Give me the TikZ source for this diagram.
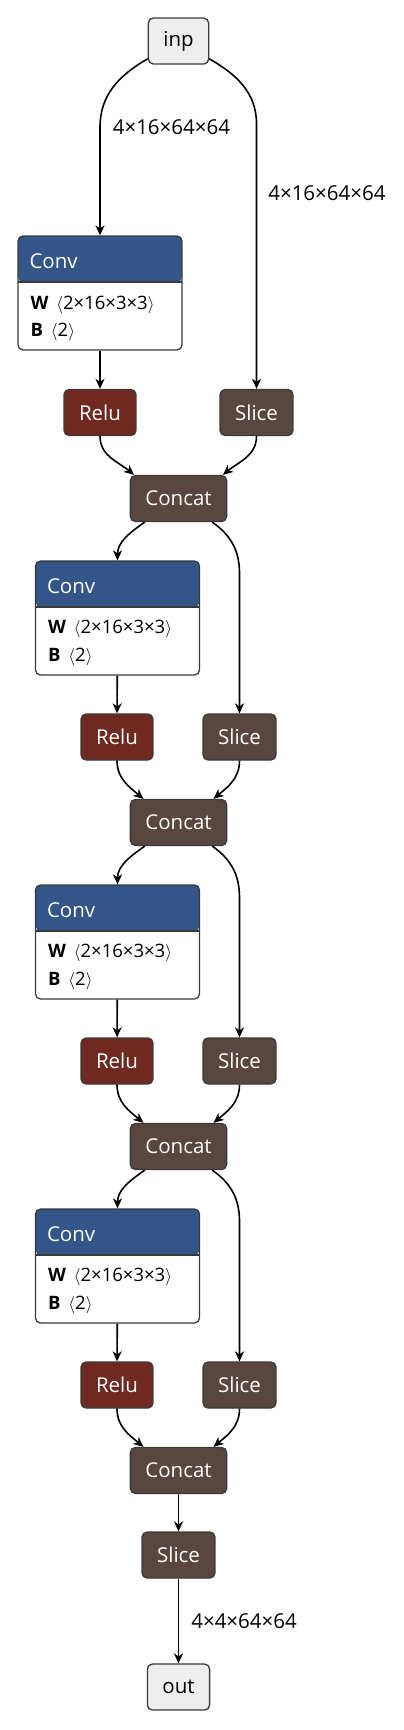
\documentclass[tikz,border=0pt]{standalone}
\usepackage{fontspec}
\setmainfont{Open Sans}
\usepackage{tikz}
\usetikzlibrary{arrows.meta, positioning, calc}
\definecolor{convblue}{RGB}{51,85,136}
\definecolor{relured}{RGB}{112,41,33}
\definecolor{tensorbrown}{RGB}{89,71,63}
\definecolor{iogray}{RGB}{238,238,238}
\definecolor{boxline}{RGB}{58,58,58}
\tikzstyle{opbox} = [rectangle, rounded corners=5pt, minimum height=46pt, inner xsep=15pt, inner ysep=0pt, text centered, draw=boxline, line width=1.3pt, font=\fontsize{20.5pt}{24pt}\selectfont]
\tikzstyle{iobox} = [opbox, fill=iogray, text=black]
\tikzstyle{relubox} = [opbox, fill=relured, text=white]
\tikzstyle{slicebox} = [opbox, fill=tensorbrown, text=white]
\tikzstyle{convbox} = [rectangle, rounded corners=5pt, minimum width=164pt, minimum height=114pt, draw=boxline, line width=1.3pt, fill=white,
  path picture={\fill[convblue] (path picture bounding box.north west) rectangle ([yshift=-46pt]path picture bounding box.north east);
                \draw[boxline, line width=1.3pt] ([yshift=-46pt]path picture bounding box.north west) -- ([yshift=-46pt]path picture bounding box.north east);}]
\tikzstyle{convname} = [anchor=base west, inner sep=0pt, text=white, font=\fontsize{20.5pt}{24pt}\selectfont]
\tikzstyle{convattr} = [anchor=base west, inner sep=0pt, font=\fontsize{18.5pt}{22pt}\selectfont]
\tikzstyle{lbl} = [inner sep=0pt, font=\fontsize{20.5pt}{24pt}\selectfont]
\tikzstyle{arrow} = [line width=1.6pt, -{Stealth[length=10pt, width=9pt, inset=3pt]}]

\begin{document}
\begin{tikzpicture}[x=1pt, y=1pt]
    \useasboundingbox (0,0) rectangle (404,-1730);

    \node (inp) [iobox] at (178.5,-41) {inp};

    % first block
    \node (conv1) [convbox] at (100,-293) {};
    \node (conv1name) [convname] at ([xshift=12pt,yshift=-33pt]conv1.north west) {Conv};
    \node (conv1w) [convattr] at ([xshift=13pt,yshift=-74pt]conv1.north west) {\textbf{W}\hspace{8pt}$\langle$2×16×3×3$\rangle$};
    \node (conv1b) [convattr] at ([xshift=13pt,yshift=-101pt]conv1.north west) {\textbf{B}\hspace{8pt}$\langle$2$\rangle$};
    \node (relu1) [relubox] at (100,-412.5) {Relu};
    \node (slice1) [slicebox] at (256.5,-412.5) {Slice};
    \node (concat1) [slicebox] at (178.5,-498.5) {Concat};

    % second block
    \node (conv2) [convbox] at (117.5,-618) {};
    \node (conv2name) [convname] at ([xshift=12pt,yshift=-33pt]conv2.north west) {Conv};
    \node (conv2w) [convattr] at ([xshift=13pt,yshift=-73pt]conv2.north west) {\textbf{W}\hspace{8pt}$\langle$2×16×3×3$\rangle$};
    \node (conv2b) [convattr] at ([xshift=13pt,yshift=-101pt]conv2.north west) {\textbf{B}\hspace{8pt}$\langle$2$\rangle$};
    \node (relu2) [relubox] at (117,-737) {Relu};
    \node (slice2) [slicebox] at (239.5,-737) {Slice};
    \node (concat2) [slicebox] at (178.5,-822.5) {Concat};

    % third block
    \node (conv3) [convbox] at (117.5,-942) {};
    \node (conv3name) [convname] at ([xshift=12pt,yshift=-33pt]conv3.north west) {Conv};
    \node (conv3w) [convattr] at ([xshift=13pt,yshift=-73pt]conv3.north west) {\textbf{W}\hspace{8pt}$\langle$2×16×3×3$\rangle$};
    \node (conv3b) [convattr] at ([xshift=13pt,yshift=-101pt]conv3.north west) {\textbf{B}\hspace{8pt}$\langle$2$\rangle$};
    \node (relu3) [relubox] at (117,-1061) {Relu};
    \node (slice3) [slicebox] at (239.5,-1061) {Slice};
    \node (concat3) [slicebox] at (178.5,-1146.5) {Concat};

    % fourth block
    \node (conv4) [convbox] at (117.5,-1266) {};
    \node (conv4name) [convname] at ([xshift=12pt,yshift=-33pt]conv4.north west) {Conv};
    \node (conv4w) [convattr] at ([xshift=13pt,yshift=-73pt]conv4.north west) {\textbf{W}\hspace{8pt}$\langle$2×16×3×3$\rangle$};
    \node (conv4b) [convattr] at ([xshift=13pt,yshift=-101pt]conv4.north west) {\textbf{B}\hspace{8pt}$\langle$2$\rangle$};
    \node (relu4) [relubox] at (117,-1385) {Relu};
    \node (slice4) [slicebox] at (239.5,-1385) {Slice};
    \node (concat4) [slicebox] at (178.5,-1470.5) {Concat};

    \node (slice5) [slicebox] at (178.5,-1555) {Slice};
    \node (out) [iobox] at (178.5,-1687) {out};

    \draw [arrow] (inp.210) to[out=210,in=90] ($(conv1.north)+(0,108)$) -- node[lbl, right=12pt, pos=0] {4×16×64×64} (conv1.north);
    \draw [arrow] (inp.330) to[out=-30,in=90] ($(slice1.north)+(0,265)$) -- node[lbl, right=11pt, pos=0.26] {4×16×64×64} (slice1.north);
    \draw [arrow] (conv1) -- (relu1);
    \draw [arrow] (relu1.south) to[out=-90,in=140] (concat1.152);
    \draw [arrow] (slice1.south) to[out=-90,in=40] (concat1.28);

    \draw [arrow] (concat1.215) to[out=215,in=90] (conv2.north);
    \draw [arrow] (concat1.325) to[out=-35,in=90] ($(slice2.north)+(0,140)$) -- (slice2.north);
    \draw [arrow] (conv2) -- (relu2);
    \draw [arrow] (relu2.south) to[out=-90,in=140] (concat2.146);
    \draw [arrow] (slice2.south) to[out=-90,in=40] (concat2.34);

    \draw [arrow] (concat2.215) to[out=215,in=90] (conv3.north);
    \draw [arrow] (concat2.325) to[out=-35,in=90] ($(slice3.north)+(0,140)$) -- (slice3.north);
    \draw [arrow] (conv3) -- (relu3);
    \draw [arrow] (relu3.south) to[out=-90,in=140] (concat3.146);
    \draw [arrow] (slice3.south) to[out=-90,in=40] (concat3.34);

    \draw [arrow] (concat3.215) to[out=215,in=90] (conv4.north);
    \draw [arrow] (concat3.325) to[out=-35,in=90] ($(slice4.north)+(0,140)$) -- (slice4.north);
    \draw [arrow] (conv4) -- (relu4);
    \draw [arrow] (relu4.south) to[out=-90,in=140] (concat4.146);
    \draw [arrow] (slice4.south) to[out=-90,in=40] (concat4.34);

    \draw [arrow] (concat4) -- (slice5);
    \draw [arrow] (slice5) -- node[lbl, right=12pt] {4×4×64×64} (out);

\end{tikzpicture}
\end{document}
